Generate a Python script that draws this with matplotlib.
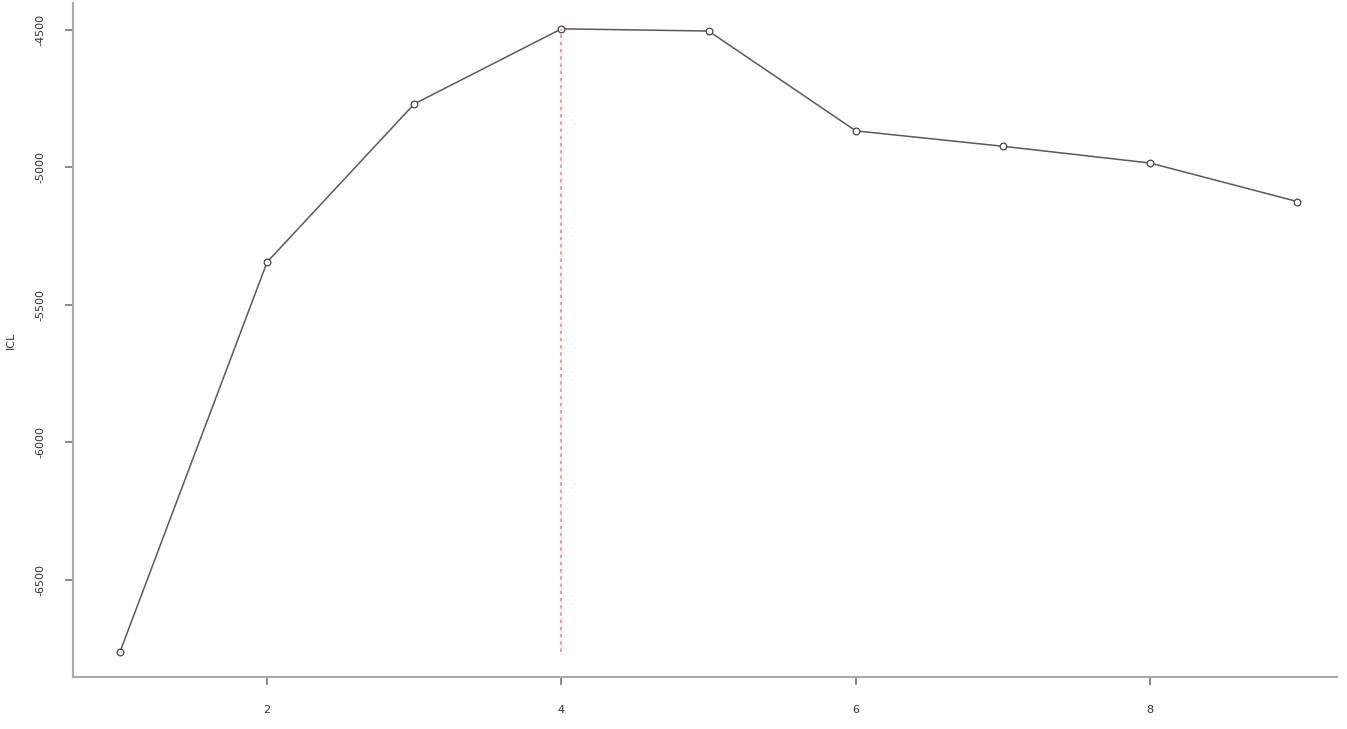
import matplotlib.pyplot as plt

clusters = [1, 2, 3, 4, 5, 6, 7, 8, 9]
icl = [-6762, -5344, -4769, -4496, -4504, -4867, -4923, -4984, -5124]
x_ticks = [2, 4, 6, 8]
y_ticks = [-6500, -6000, -5500, -5000, -4500]

best = clusters[icl.index(max(icl))]

fig = plt.figure(figsize=(13.47, 7.29), dpi=100)
ax = fig.add_axes([0.0542, 0.0713, 0.9384, 0.9246])

ax.plot(clusters, icl, color='#5a5a5a', linewidth=1.1, marker='o',
        markersize=4.8, markerfacecolor='white', markeredgecolor='#444444',
        markeredgewidth=0.9)
ax.vlines(best, min(icl), max(icl), colors='#ff9090', linestyles=(0, (2, 2)),
          linewidth=1.3)

ax.set_xlim(0.681, 9.27)
ax.set_ylim(-6853, -4402)
ax.set_xticks(x_ticks)
ax.set_yticks(y_ticks)
ax.set_yticklabels([str(v) for v in y_ticks], rotation=90, va='center')
ax.set_ylabel('ICL', fontsize=8, color='#333333', labelpad=14)

for s in ['top', 'right']:
    ax.spines[s].set_visible(False)
for s in ['left', 'bottom']:
    ax.spines[s].set_color('#aaaaaa')
    ax.spines[s].set_linewidth(1.5)
ax.tick_params(axis='both', colors='#777777', labelcolor='#333333',
               labelsize=8, length=6, width=1.2)
ax.tick_params(axis='x', pad=14)
ax.tick_params(axis='y', pad=14)

fig.savefig('out.png', dpi=100)
